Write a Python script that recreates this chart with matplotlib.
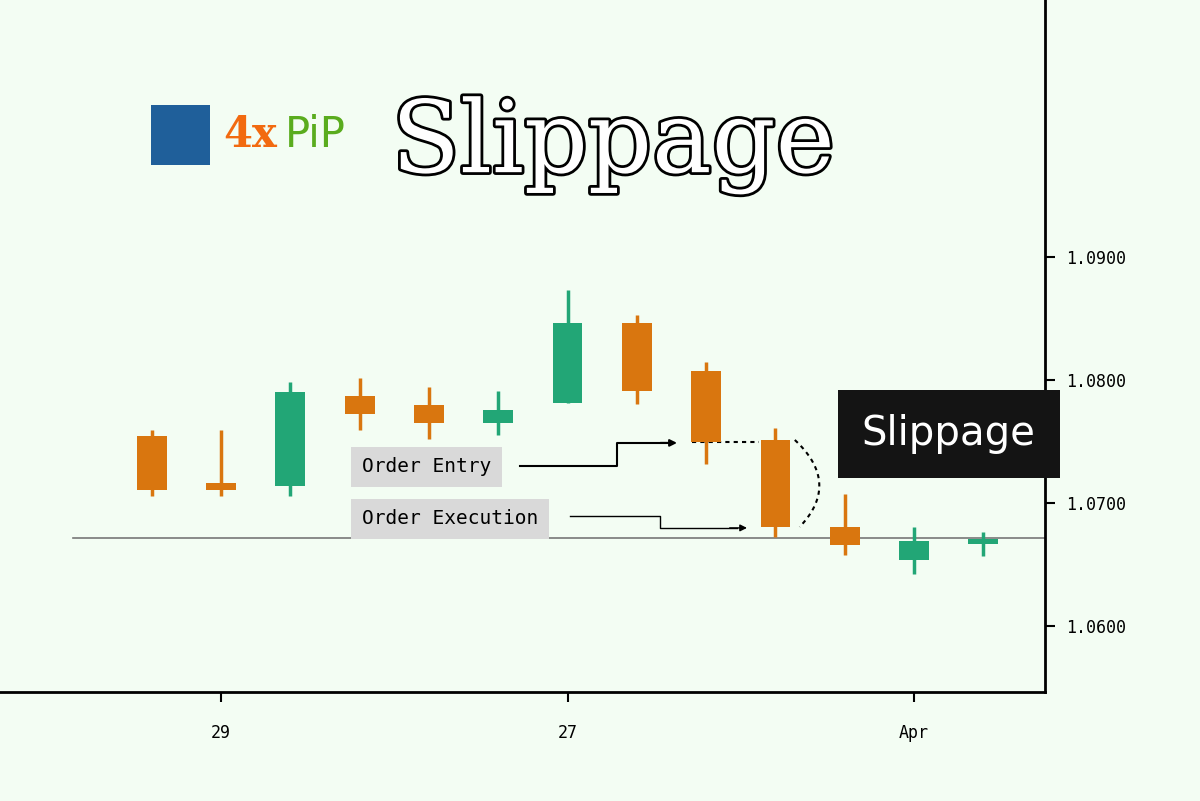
import matplotlib.pyplot as plt
import matplotlib.patheffects as pe
import numpy as np

# candle data (open, high, low, close)
opens = [1.07545, 1.07163, 1.07138, 1.07870, 1.07797, 1.07650, 1.07813, 1.08463, 1.08073, 1.07512, 1.06805, 1.06537, 1.06670]
highs = [1.07594, 1.07594, 1.07984, 1.08016, 1.07943, 1.07910, 1.08732, 1.08528, 1.08146, 1.07610, 1.07073, 1.06805, 1.06764]
lows = [1.07057, 1.07057, 1.07057, 1.07594, 1.07520, 1.07553, 1.07813, 1.07805, 1.07317, 1.06724, 1.06577, 1.06423, 1.06569]
closes = [1.07106, 1.07106, 1.07902, 1.07724, 1.07650, 1.07756, 1.08463, 1.07910, 1.07496, 1.06805, 1.06659, 1.06691, 1.06707]
tick_pos = [1, 6, 11]
tick_labels = ["29", "27", "Apr"]
yticks = [1.06, 1.07, 1.08, 1.09]
level = 1.06715

BG = "#f3fdf3"
UP = "#22a676"
DOWN = "#d9760f"
MONO = "DejaVu Sans Mono"

fig = plt.figure(figsize=(12, 8.01), dpi=100, facecolor=BG)
ax = fig.add_axes([0, 0.1361, 0.8708, 0.8639], facecolor=BG)

for i, (o, h, l, c) in enumerate(zip(opens, highs, lows, closes)):
    col = UP if c >= o else DOWN
    ax.vlines(i, l, h, color=col, lw=2.5, zorder=2)
    ax.bar(i, abs(c - o), bottom=min(o, c), width=0.43, color=col, zorder=3)

ax.plot([-1.14, 12.89], [level, level], color="#777777", lw=1.2, zorder=1)

ax.set_xlim(-2.19, 12.89)
ax.set_ylim(1.05463, 1.11089)
ax.yaxis.tick_right()
ax.set_yticks(yticks)
ax.set_yticklabels([f"{v:.4f}" for v in yticks], fontsize=12, family=MONO)
ax.set_xticks(tick_pos)
ax.set_xticklabels(tick_labels, fontsize=12, family=MONO)
ax.tick_params(axis="y", length=7, width=1.5, pad=8)
ax.tick_params(axis="x", length=7, width=1.5, pad=16)
for s in ["left", "top"]:
    ax.spines[s].set_visible(False)
for s in ["right", "bottom"]:
    ax.spines[s].set_linewidth(2)

box = dict(boxstyle="square,pad=0.55", fc="#d9d9d9", ec="none")
ax.text(3.03, 1.07293, "Order Entry", fontsize=14, family=MONO, va="center", bbox=box, zorder=5)
ax.text(3.03, 1.06870, "Order Execution", fontsize=14, family=MONO, va="center", bbox=box, zorder=5)

ax.plot([5.31, 6.72, 6.72, 7.45], [1.07301, 1.07301, 1.07488, 1.07488], color="black", lw=1.5)
ax.annotate("", xy=(7.62, 1.07488), xytext=(7.3, 1.07488),
            arrowprops=dict(arrowstyle="-|>", color="black", lw=1.5))
ax.plot([6.03, 7.33, 7.33, 8.45], [1.06894, 1.06894, 1.06797, 1.06797], color="black", lw=1)
ax.annotate("", xy=(8.63, 1.06797), xytext=(8.3, 1.06797),
            arrowprops=dict(arrowstyle="-|>", color="black", lw=1))

ax.plot([7.79, 8.77], [1.07496, 1.07496], color="black", lw=1.5, ls=(0, (2, 2)))
t = np.linspace(0, 1, 40)
p0, p1, p2 = np.array([9.28, 1.07512]), np.array([9.95, 1.07160]), np.array([9.35, 1.06805])
curve = ((1 - t) ** 2)[:, None] * p0 + (2 * (1 - t) * t)[:, None] * p1 + (t ** 2)[:, None] * p2
ax.plot(curve[:, 0], curve[:, 1], color="black", lw=1.5, ls=(0, (2, 2)))

ax.text(11.5, 1.07561, "Slippage", fontsize=29, family="DejaVu Sans", color="white",
        ha="center", va="center", clip_on=False,
        bbox=dict(boxstyle="square,pad=0.6", fc="#141414", ec="none"), zorder=10)

# title and logo
fig.text(0.511, 0.818, "Slippage", fontsize=72, family="DejaVu Serif", color="white",
         ha="center", va="center",
         path_effects=[pe.withStroke(linewidth=4, foreground="black")])
fig.patches.append(plt.Rectangle((0.126, 0.794), 0.049, 0.075, transform=fig.transFigure,
                                 fc="#1f5f9a", ec="none"))
fig.text(0.186, 0.832, "4x", fontsize=30, family="DejaVu Serif", weight="bold",
         color="#f26a10", va="center")
fig.text(0.237, 0.832, "PiP", fontsize=30, family="DejaVu Sans", color="#5aac1e", va="center")

fig.savefig("out.png", facecolor=BG)
